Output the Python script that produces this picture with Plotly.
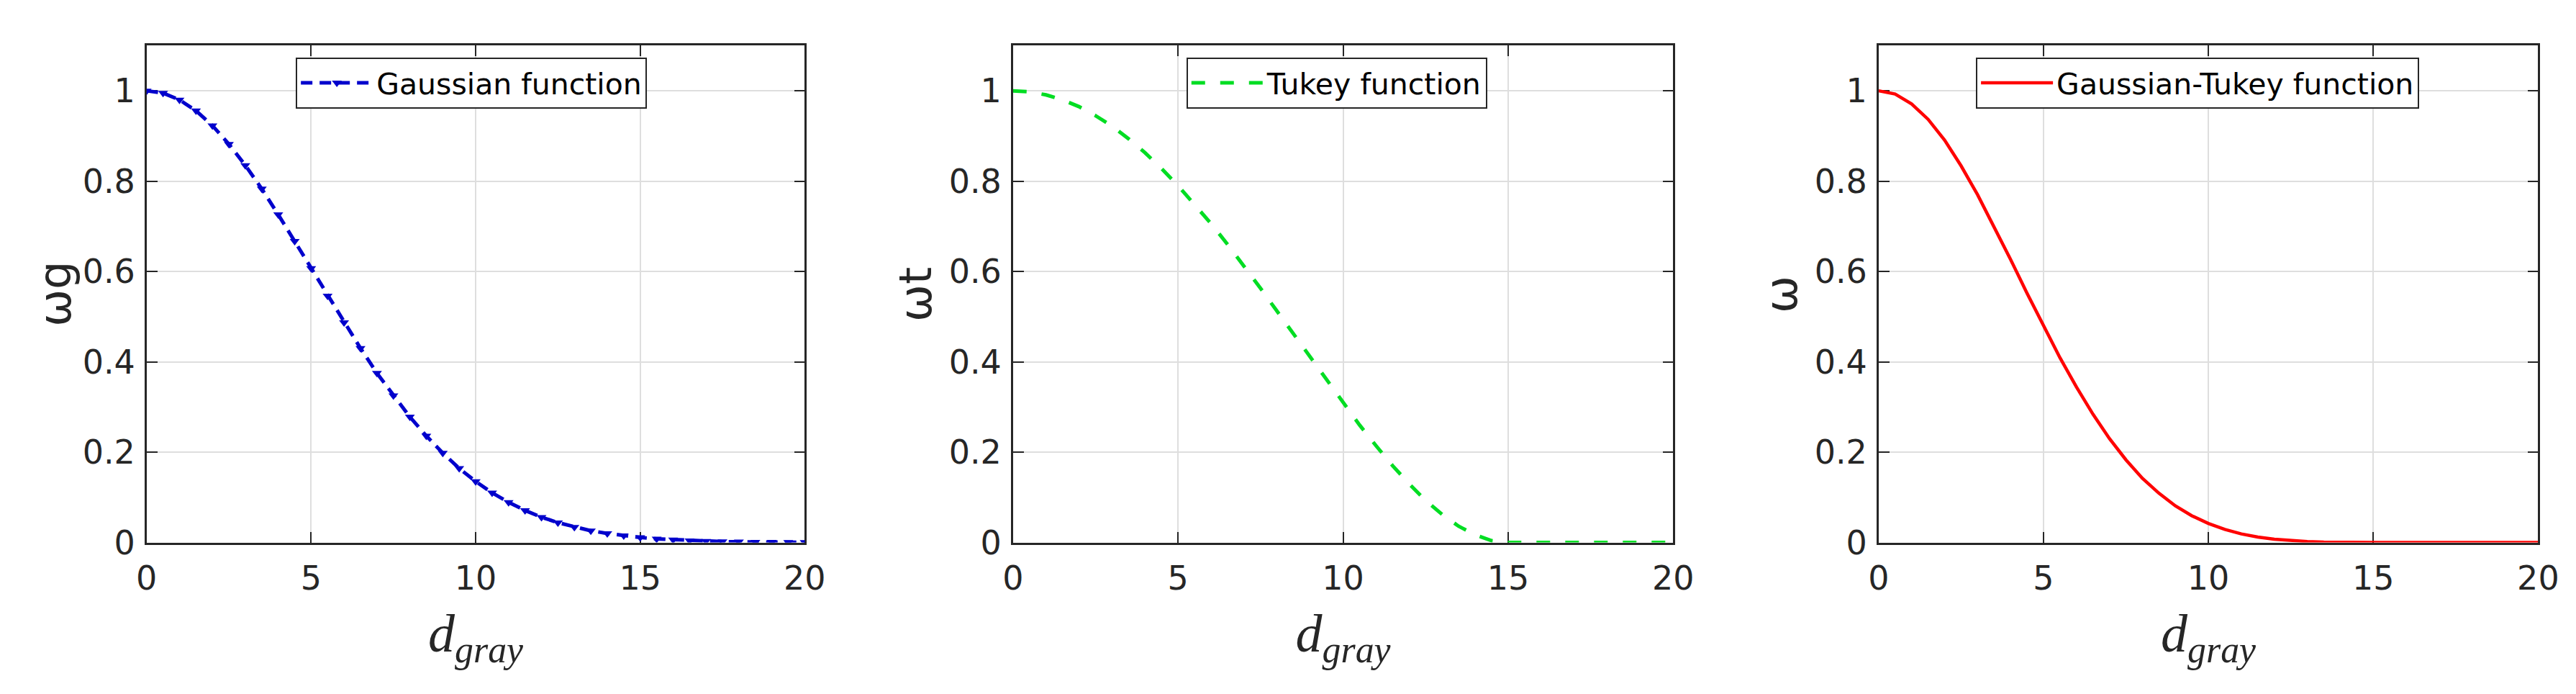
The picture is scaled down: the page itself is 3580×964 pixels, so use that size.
import plotly.graph_objects as go
from plotly.subplots import make_subplots

# distance values (step 0.5) and the three weight curves
d_gray = [i * 0.5 for i in range(41)]

w_gauss = [1.000, 0.995, 0.980, 0.956, 0.923, 0.882, 0.835, 0.783, 0.726, 0.667,
           0.607, 0.546, 0.487, 0.430, 0.375, 0.325, 0.278, 0.236, 0.198, 0.164,
           0.135, 0.110, 0.089, 0.071, 0.056, 0.044, 0.034, 0.026, 0.020, 0.015,
           0.011, 0.008, 0.006, 0.004, 0.003, 0.002, 0.0015, 0.001, 0.0007, 0.0005,
           0.0003]

w_tukey = [1.000, 0.998, 0.991, 0.980, 0.965, 0.945, 0.922, 0.894, 0.863, 0.828,
           0.790, 0.749, 0.706, 0.660, 0.612, 0.5625, 0.512, 0.461, 0.410, 0.359,
           0.309, 0.260, 0.214, 0.170, 0.130, 0.093, 0.062, 0.036, 0.017, 0.004,
           0, 0, 0, 0, 0, 0, 0, 0, 0, 0, 0]

w_gt = [1.000, 0.993, 0.971, 0.937, 0.891, 0.834, 0.770, 0.700, 0.627, 0.552,
        0.480, 0.409, 0.344, 0.284, 0.230, 0.183, 0.142, 0.109, 0.081, 0.059,
        0.042, 0.029, 0.019, 0.012, 0.0073, 0.0041, 0.0021, 0.0009, 0.0003, 0.0001,
        0, 0, 0, 0, 0, 0, 0, 0, 0, 0, 0]

y_titles = ["ωg", "ωt", "ω"]

W, H = 3580, 964
fig = make_subplots(rows=1, cols=3)

fig.add_trace(go.Scatter(x=d_gray, y=w_gauss, name="Gaussian function", mode="lines+markers",
                         line=dict(color="#0000cc", width=5, dash="16px,10px"),
                         marker=dict(symbol="triangle-down", size=12, color="#0000cc"),
                         showlegend=True, legend="legend"), row=1, col=1)
fig.add_trace(go.Scatter(x=d_gray, y=w_tukey, name="Tukey function", mode="lines",
                         line=dict(color="#00dd22", width=5, dash="19px,21px"),
                         showlegend=True, legend="legend2"), row=1, col=2)
fig.add_trace(go.Scatter(x=d_gray, y=w_gt, name="Gaussian-Tukey function", mode="lines",
                         line=dict(color="#ff0000", width=4.5),
                         showlegend=True, legend="legend3"), row=1, col=3)

# axis boxes in pixels -> paper fractions
x_boxes = [(183, 1109), (1402, 2331), (2620, 3548)]
y_dom = [1 - 767 / H, 1 - 57 / H]
ytitle_x = [54, 1265, 2483]

axis_style = dict(showline=True, linewidth=2.5, linecolor="#262626", mirror="ticks",
                  ticks="inside", ticklen=15, tickwidth=2, tickcolor="#262626",
                  showgrid=True, gridcolor="#dedede", gridwidth=1.5, zeroline=False,
                  layer="below traces",
                  tickfont=dict(family="DejaVu Sans", size=46, color="#262626"))

for i, (x0, x1) in enumerate(x_boxes):
    fig.update_xaxes(domain=[x0 / W, x1 / W], range=[0, 20], dtick=5, ticklabelstandoff=8,
                     title=dict(text="<i>d</i><sub><i>gray</i></sub>", standoff=24,
                                font=dict(family="Liberation Serif", size=74, color="#262626")),
                     **axis_style, row=1, col=i + 1)
    fig.update_yaxes(domain=y_dom, range=[0, 1.1], dtick=0.2, ticklabelstandoff=4,
                     **axis_style, row=1, col=i + 1)
    fig.add_annotation(text=y_titles[i], xref="paper", yref="paper",
                       x=ytitle_x[i] / W, y=1 - 412 / H, xanchor="center", yanchor="middle",
                       textangle=-90, showarrow=False,
                       font=dict(family="DejaVu Sans", size=62, color="#262626"))

leg_style = dict(yanchor="top", xanchor="left", y=1 - 74 / H, bgcolor="white",
                 bordercolor="#262626", borderwidth=2, itemwidth=100,
                 font=dict(family="DejaVu Sans", size=41, color="black"))
fig.update_layout(
    width=W, height=H, plot_bgcolor="white", paper_bgcolor="white",
    margin=dict(l=0, r=0, t=0, b=0), showlegend=True,
    legend=dict(x=393 / W, **leg_style),
    legend2=dict(x=1646 / W, **leg_style),
    legend3=dict(x=2757 / W, **leg_style),
)

fig.write_html("out.html")
